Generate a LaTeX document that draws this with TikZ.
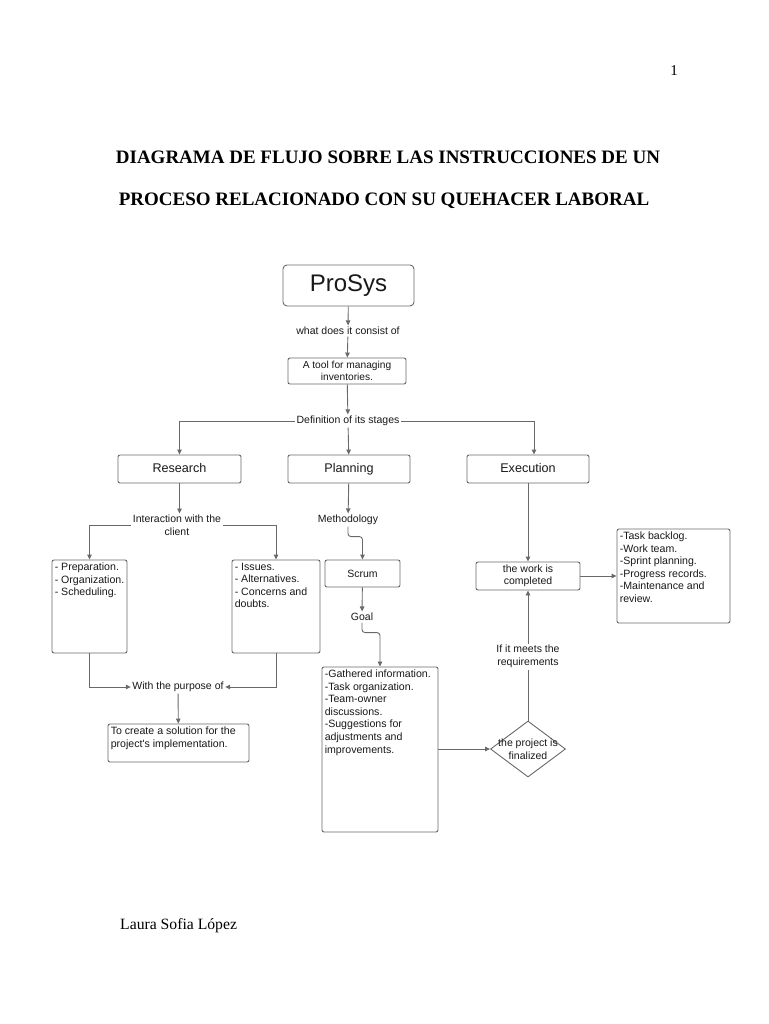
\documentclass[tikz,border=0pt]{standalone}
\usepackage{fontspec}
\setmainfont{Liberation Serif}
\newfontfamily\dsans{Liberation Sans}
\usetikzlibrary{arrows.meta,shapes.geometric}
\definecolor{ln}{RGB}{105,105,105}
\definecolor{tx}{RGB}{25,25,25}
\begin{document}
\begin{tikzpicture}[x=1pt,y=-1pt,
 box/.style={draw=ln, line width=0.9pt, rounded corners=2pt, inner sep=0pt, font=\dsans\fontsize{12.6}{14}\selectfont, text=tx, align=center},
 stage/.style={box, minimum height=28, text height=9pt, text depth=2.5pt},
 lbl/.style={font=\dsans\fontsize{10.5}{12.8}\selectfont, text=tx, align=center, inner sep=1.5pt},
 listtxt/.style={font=\dsans\fontsize{10.6}{12.6}\selectfont, text=tx, align=left, inner sep=3pt, anchor=north west},
 arr/.style={draw=ln, line width=0.9pt, -{Triangle[length=5pt,width=4.5pt]}},
 plain/.style={draw=ln, line width=0.9pt}]
\fill[white] (0,0) rectangle (768,1024);
\useasboundingbox (0,0) rectangle (768,1024);

% page header
\node[font=\fontsize{15}{16}\selectfont] (pnum) at (674,71) {1};
\node[font=\bfseries\fontsize{19}{22}\selectfont] (title1) at (388,157) {DIAGRAMA DE FLUJO SOBRE LAS INSTRUCCIONES DE UN};
\node[font=\bfseries\fontsize{19}{22}\selectfont] (title2) at (384,200.5) {PROCESO RELACIONADO CON SU QUEHACER LABORAL};
\node[font=\fontsize{15.7}{17}\selectfont, anchor=west, inner sep=0pt] (author) at (120,926) {Laura Sofia López};

% boxes
\node[box, minimum width=131, minimum height=41, font=\dsans\fontsize{24}{26}\selectfont, rounded corners=4pt] (prosys) at (348.5,285.5) {ProSys};
\node[lbl] (what) at (348,331) {what does it consist of};
\node[box, minimum width=118, minimum height=26, font=\dsans\fontsize{10.2}{12.5}\selectfont] (tool) at (347,371) {A tool for managing\\inventories.};
\node[lbl] (def) at (348,421) {Definition of its stages};

\node[stage, minimum width=123] (research) at (179.5,469) {Research};
\node[stage, minimum width=122] (planning) at (349,469) {Planning};
\node[stage, minimum width=122] (execution) at (528,469) {Execution};

\node[lbl] (inter) at (177,525.5) {Interaction with the\\client};
\node[box, minimum width=75, minimum height=93] (prep) at (89.5,606.5) {};
\node[listtxt] (prept) at (prep.north west) {- Preparation.\\- Organization.\\- Scheduling.};
\node[box, minimum width=88, minimum height=93] (iss) at (276,606.5) {};
\node[listtxt] (isst) at (iss.north west) {- Issues.\\- Alternatives.\\- Concerns and\\doubts.};
\node[lbl] (purpose) at (178,687) {With the purpose of};
\node[box, minimum width=141, minimum height=38] (sol) at (178.5,743) {};
\node[listtxt] (solt) at (sol.north west) {To create a solution for the\\project's implementation.};

\node[lbl] (method) at (348,520) {Methodology};
\node[box, minimum width=75, minimum height=27, font=\dsans\fontsize{10.5}{12}\selectfont] (scrum) at (362.5,573.5) {Scrum};
\node[lbl] (goal) at (362,617) {Goal};
\node[box, minimum width=116, minimum height=165] (big) at (380,749.5) {};
\node[listtxt] (bigt) at (big.north west) {-Gathered information.\\-Task organization.\\-Team-owner\\discussions.\\-Suggestions for\\adjustments and\\improvements.};

\node[draw=ln, line width=0.9pt, diamond, minimum width=75, minimum height=56, inner sep=0pt] (dia) at (528,749) {};
\node[lbl, font=\dsans\fontsize{10.5}{12.5}\selectfont] (diat) at (dia.center) {the project is\\finalized};
\node[lbl] (req) at (528,656.5) {If it meets the\\requirements};
\node[box, minimum width=104, minimum height=28, font=\dsans\fontsize{10.5}{12.3}\selectfont] (work) at (528,576) {the work is\\completed};
\node[box, minimum width=113, minimum height=94] (backlog) at (673.5,576) {};
\node[listtxt] (backlogt) at (backlog.north west) {-Task backlog.\\-Work team.\\-Sprint planning.\\-Progress records.\\-Maintenance and\\review.};

% connectors
\draw[arr] (prosys) -- (what);
\draw[arr] (what) -- (tool);
\draw[arr] (tool) -- (def);
\draw[arr] (def.west) -| (research);
\draw[arr] (def.east) -| ([xshift=6pt]execution.north);
\draw[arr] (def) -- (planning);
\draw[arr] (research) -- (research |- inter.north);
\draw[arr] (inter.west) -| (prep);
\draw[arr] (inter.east) -| (iss);
\draw[arr] (prep.south) |- (purpose.west);
\draw[arr] (iss.south) |- (purpose.east);
\draw[arr] (purpose) -- (sol);
\draw[arr] (planning) -- (method);
\draw[arr, rounded corners=3pt] (method.south) -- ++(0,10) -| (scrum.north);
\draw[arr] (scrum) -- (goal);
\draw[arr, rounded corners=3pt] (goal.south) -- ++(0,10) -| (big.north);
\draw[arr] (big.east |- dia.west) -- (dia.west);
\draw[plain] (dia.north) -- (req.south);
\draw[arr] (req.north) -- (work.south);
\draw[arr] (execution) -- (work);
\draw[arr] (work) -- (backlog);
\end{tikzpicture}
\end{document}
